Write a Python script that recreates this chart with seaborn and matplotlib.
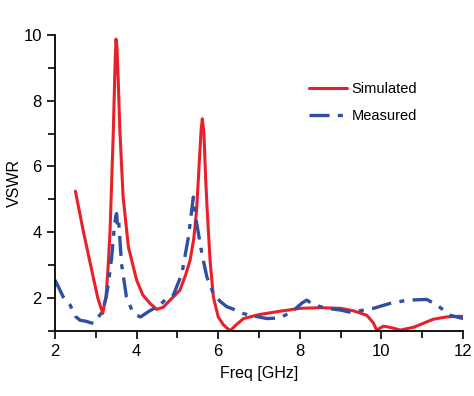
import numpy as np
import pandas as pd
import matplotlib
matplotlib.use("Agg")
import matplotlib.pyplot as plt
import seaborn as sns

# Simulated VSWR
sim_freq = [2.5, 2.7, 2.9, 3.05, 3.17, 3.25, 3.3, 3.35, 3.43, 3.47, 3.495, 3.52, 3.55,
            3.59, 3.67, 3.8, 4.0, 4.15, 4.33, 4.49, 4.65, 4.82, 4.95, 5.06, 5.2, 5.31,
            5.4, 5.47, 5.53, 5.58, 5.61, 5.65, 5.69, 5.73, 5.8, 5.88, 6.0, 6.12, 6.25,
            6.3, 6.45, 6.62, 7.0, 7.5, 8.0, 8.5, 9.0, 9.3, 9.64, 9.8, 9.88,
            10.05, 10.25, 10.46, 10.8, 11.27, 11.6, 11.93, 12.0]
sim_vswr = [5.25, 4.0, 2.85, 2.0, 1.54, 2.04, 2.9, 4.06, 7.09, 9.0, 9.87, 9.6, 8.6,
            7.09, 5.07, 3.55, 2.55, 2.1, 1.84, 1.66, 1.72, 1.94, 2.1, 2.24, 2.7, 3.15,
            3.8, 4.67, 6.0, 7.1, 7.45, 7.0, 5.68, 4.67, 3.15, 2.04, 1.43, 1.2, 1.05,
            1.02, 1.2, 1.38, 1.5, 1.6, 1.69, 1.71, 1.69, 1.62, 1.48, 1.25, 1.03,
            1.15, 1.1, 1.03, 1.12, 1.36, 1.43, 1.45, 1.44]

# Measured VSWR
meas_freq = [2.0, 2.1, 2.2, 2.37, 2.5, 2.61, 2.75, 2.94, 3.14, 3.25, 3.31, 3.39, 3.45,
             3.49, 3.51, 3.53, 3.56, 3.63, 3.75, 3.88, 4.0, 4.1, 4.3, 4.57, 4.74, 4.9,
             5.11, 5.27, 5.39, 5.46, 5.6, 5.72, 5.88, 6.05, 6.21, 6.4, 6.62, 6.78,
             7.19, 7.52, 7.84, 8.05, 8.17, 8.33, 8.66, 8.99, 9.2, 9.39, 9.8, 10.21,
             10.4, 10.62, 11.11, 11.35, 11.68, 12.0]
meas_vswr = [2.55, 2.3, 2.04, 1.79, 1.45, 1.33, 1.3, 1.23, 1.55, 2.0, 2.45, 3.25, 4.1,
             4.5, 4.57, 4.2, 4.35, 3.05, 2.04, 1.65, 1.48, 1.43, 1.6, 1.79, 2.0, 2.09,
             2.75, 3.86, 5.07, 4.36, 3.35, 2.65, 2.14, 1.9, 1.74, 1.65, 1.53, 1.48,
             1.38, 1.4, 1.62, 1.85, 1.94, 1.8, 1.69, 1.64, 1.58, 1.6, 1.69, 1.84,
             1.88, 1.94, 1.96, 1.8, 1.48, 1.38]

sim = pd.DataFrame({"freq": sim_freq, "vswr": sim_vswr})
meas = pd.DataFrame({"freq": meas_freq, "vswr": meas_vswr})

sns.set_style("ticks")
plt.rcParams["font.family"] = ["Liberation Sans", "DejaVu Sans"]
plt.rcParams["text.color"] = "black"
plt.rcParams["axes.labelcolor"] = "black"
plt.rcParams["xtick.color"] = "black"
plt.rcParams["ytick.color"] = "black"

fig = plt.figure(figsize=(4.74, 3.96), dpi=100)
ax = fig.add_axes([0.116, 0.164, 0.861, 0.748])

sns.lineplot(data=sim, x="freq", y="vswr", ax=ax, color="#e8202a", lw=2.2,
             label="Simulated", sort=False)
sns.lineplot(data=meas, x="freq", y="vswr", ax=ax, color="#2f4fa2", lw=2.4,
             label="Measured", sort=False)
ax.lines[1].set_dashes([6, 2.5, 1.5, 2.5])

ax.set_xlim(2, 12)
ax.set_ylim(1, 10)
ax.set_xticks([2, 4, 6, 8, 10, 12])
ax.set_xticks([3, 5, 7, 9, 11], minor=True)
ax.set_yticks([2, 4, 6, 8, 10])
ax.set_yticks([1, 3, 5, 7, 9], minor=True)
ax.tick_params(axis="both", which="major", labelsize=12, length=6, width=1.2,
               direction="out", color="black", labelcolor="black")
ax.tick_params(axis="both", which="minor", length=5, width=1.2, color="black")
for s in ["left", "bottom"]:
    ax.spines[s].set_linewidth(1.3)
    ax.spines[s].set_color("black")
sns.despine(ax=ax)

ax.set_xlabel("Freq [GHz]", fontsize=11.5, labelpad=5, color="black")
ax.set_ylabel("VSWR", fontsize=11.5, labelpad=1, color="black")

leg = ax.legend(loc="upper right", bbox_to_anchor=(0.92, 0.885), frameon=False,
                fontsize=10.5, handlelength=2.6, handletextpad=0.3,
                labelspacing=0.9)
for t in leg.get_texts():
    t.set_color("black")

fig.savefig("out.png", dpi=100)
